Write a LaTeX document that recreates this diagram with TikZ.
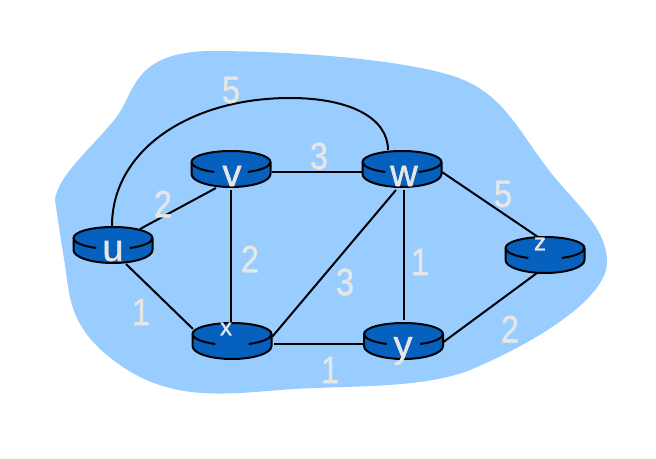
\documentclass[tikz,border=0pt]{standalone}
\usepackage{fontspec}
\setmainfont{Liberation Sans}
\newfontfamily\labelfont[FakeBold=1.2]{Liberation Sans}
\usetikzlibrary{calc}
\definecolor{cloudblue}{HTML}{99CCFF}
\definecolor{routerblue}{HTML}{0561BD}
\definecolor{labelgray}{HTML}{E6E6E6}
\tikzset{
  link/.style={draw=black,line width=2pt},
  routerport/.style={inner sep=0pt,minimum size=0pt},
  weight/.style={text=labelgray,font=\labelfont\fontsize{38}{38}\selectfont,inner sep=0pt,xscale=.85},
  biglabel/.style={text=labelgray,font=\labelfont\fontsize{38}{38}\selectfont,inner sep=0pt},
  smalllabel/.style={text=labelgray,font=\labelfont\fontsize{24}{24}\selectfont,inner sep=0pt}
}
\newcommand{\routerdisc}[3]{%
  \fill[routerblue] (#2-39.5,#3) arc[x radius=39.5pt,y radius=11pt,start angle=180,end angle=0]
    -- (#2+39.5,#3+12) arc[x radius=39.5pt,y radius=13pt,start angle=0,end angle=-180] -- cycle;
  \draw[black,line width=2pt,line join=round] (#2-39.5,#3+12) -- (#2-39.5,#3)
    arc[x radius=39.5pt,y radius=11pt,start angle=180,end angle=0] -- (#2+39.5,#3+12)
    arc[x radius=39.5pt,y radius=13pt,start angle=0,end angle=-180];
  \draw[black,line width=2pt] (#2-39.5,#3) arc[x radius=39.5pt,y radius=11pt,start angle=180,end angle=245];
  \draw[black,line width=2pt] (#2+39.5,#3) arc[x radius=39.5pt,y radius=11pt,start angle=0,end angle=-65];
  \node[routerport] (#1) at (#2,#3) {};
}
\begin{document}
\begin{tikzpicture}[x=1pt,y=-1pt]
\useasboundingbox (0,0) rectangle (656,458);
\fill[cloudblue] (55,200) .. controls (57,175) and (100,140) .. (118,115)
 .. controls (135,90) and (135,52) .. (210,51)
 .. controls (300,51) and (400,60) .. (450,75)
 .. controls (500,90) and (515,125) .. (545,165)
 .. controls (570,200) and (607,225) .. (607,262)
 .. controls (607,300) and (530,345) .. (470,370)
 .. controls (420,390) and (340,385) .. (280,390)
 .. controls (220,395) and (170,400) .. (120,365)
 .. controls (70,330) and (70,300) .. (65,265)
 .. controls (60,235) and (58,220) .. (55,200) -- cycle;
\routerdisc{u}{113}{238}
\routerdisc{v}{231}{162}
\routerdisc{w}{402}{162}
\routerdisc{x}{232}{334}
\routerdisc{y}{403.5}{334}
\routerdisc{z}{545}{248}
\draw[link] ($(u)+(27,-9)$) -- ($(v)+(-15,26)$);
\draw[link] ($(u)+(13,26)$) -- ($(x)+(-39,-5)$);
\draw[link] ($(u)+(-1,-12)$) .. controls (112,150) and (190,98) .. (290,98)
  .. controls (350,98) and (388,118) .. ($(w)+(-14,-12)$);
\draw[link] ($(v)+(41,10)$) -- ($(w)+(-40,10)$);
\draw[link] ($(v)+(0,28)$) -- ($(x)+(-1,-11)$);
\draw[link] ($(w)+(-6,28)$) -- ($(x)+(40,3)$);
\draw[link] ($(w)+(2,28)$) -- ($(y)+(.5,-14)$);
\draw[link] ($(w)+(40,10)$) -- ($(z)+(-7,-11)$);
\draw[link] ($(x)+(42,10)$) -- ($(y)+(-40,10)$);
\draw[link] ($(y)+(40,8)$) -- ($(z)+(-8,25)$);
\node[biglabel] (lu) at (113,251) {u};
\node[biglabel] (lv) at (232,176) {v};
\node[biglabel] (lw) at (404,176) {w};
\node[smalllabel] (lx) at (226,329) {x};
\node[biglabel] (ly) at (403,351) {y};
\node[smalllabel] (lz) at (540,244) {z};
\node[weight] (a) at (231,90) {5};
\node[weight] (b) at (163,204) {2};
\node[weight] (c) at (319,156) {3};
\node[weight] (d) at (503,194) {5};
\node[weight] (e) at (250,259) {2};
\node[weight] (f) at (345,282) {3};
\node[weight] (g) at (420,262) {1};
\node[weight] (h) at (141,312) {1};
\node[weight] (i) at (330,370) {1};
\node[weight] (j) at (510,329) {2};
\end{tikzpicture}
\end{document}
